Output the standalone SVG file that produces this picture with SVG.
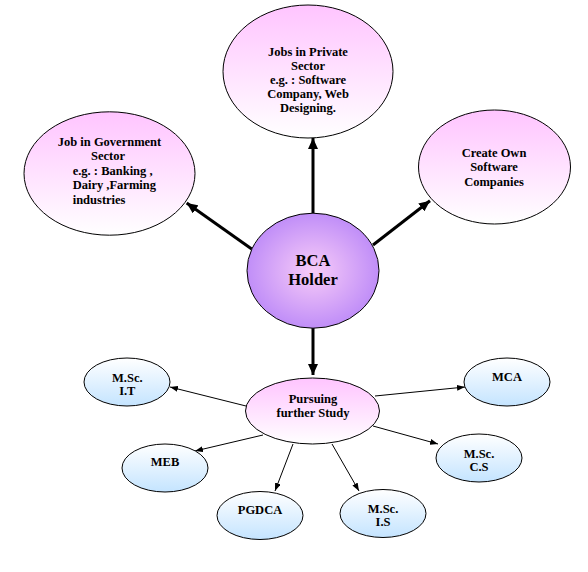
<svg xmlns="http://www.w3.org/2000/svg" width="588" height="572" viewBox="0 0 588 572">
<defs>
<linearGradient id="pink" x1="0" y1="0" x2="0" y2="1">
<stop offset="0" stop-color="#FFC4FF"/>
<stop offset="1" stop-color="#FFFFFF"/>
</linearGradient>
<linearGradient id="blue" x1="0" y1="0" x2="0" y2="1">
<stop offset="0" stop-color="#FFFFFF"/>
<stop offset="1" stop-color="#C4E4FF"/>
</linearGradient>
<radialGradient id="purple" cx="0.5" cy="0.5" r="0.5">
<stop offset="0" stop-color="#F8CCF8"/>
<stop offset="1" stop-color="#C08EF8"/>
</radialGradient>
<marker id="thick" markerUnits="userSpaceOnUse" markerWidth="12" markerHeight="10" refX="11" refY="5" orient="auto">
<path d="M0,0 L11,5 L0,10 Z" fill="#000"/>
</marker>
<marker id="thin" markerUnits="userSpaceOnUse" markerWidth="8" markerHeight="6" refX="8" refY="3" orient="auto">
<path d="M0,0 L8,3 L0,6 Z" fill="#000"/>
</marker>
</defs>
<style>
.pk{fill:url(#pink);stroke:#000;stroke-width:1}
.bl{fill:url(#blue);stroke:#000;stroke-width:1}
.bca{fill:url(#purple);stroke:#000;stroke-width:1}
text{font-family:"Liberation Serif","Times New Roman",serif;font-weight:bold;font-size:12.5px;fill:#000;text-anchor:middle}
.big{font-size:16.5px}
.l{text-anchor:start}
.tk{stroke:#000;stroke-width:3;fill:none;marker-end:url(#thick)}
.tn{stroke:#000;stroke-width:1;fill:none;marker-end:url(#thin)}
</style>
<g id="connectors">
<line class="tk" x1="313" y1="213" x2="313" y2="138"/>
<line class="tk" x1="251.7" y1="249" x2="186.7" y2="203"/>
<line class="tk" x1="373" y1="245" x2="430" y2="200.7"/>
<line class="tk" x1="313" y1="328" x2="313" y2="375"/>
<line class="tn" x1="246" y1="406" x2="170" y2="387"/>
<line class="tn" x1="375" y1="396" x2="465" y2="387"/>
<line class="tn" x1="263" y1="435" x2="195" y2="451"/>
<line class="tn" x1="373" y1="426" x2="438" y2="444"/>
<line class="tn" x1="293" y1="444" x2="275" y2="491"/>
<line class="tn" x1="332" y1="444" x2="359" y2="491"/>
</g>
<g id="private">
<ellipse class="pk" cx="308" cy="71.5" rx="85" ry="66.5"/>
<text x="308" y="56">Jobs in Private</text>
<text x="308" y="70">Sector</text>
<text x="308" y="84">e.g. : Software</text>
<text x="308" y="98">Company, Web</text>
<text x="308" y="112">Designing.</text>
</g>
<g id="government">
<ellipse class="pk" cx="109.5" cy="173.5" rx="85.5" ry="61.7"/>
<text x="109.5" y="146">Job in Government</text>
<text x="108" y="160">Sector</text>
<text class="l" x="72.7" y="174.5">e.g. : Banking ,</text>
<text class="l" x="72.7" y="189">Dairy ,Farming</text>
<text class="l" x="72.7" y="203.5">industries</text>
</g>
<g id="own">
<ellipse class="pk" cx="494.5" cy="167" rx="76" ry="57"/>
<text x="494" y="156.5">Create Own</text>
<text x="494" y="171">Software</text>
<text x="494" y="186">Companies</text>
</g>
<g id="bca">
<ellipse class="bca" cx="313" cy="270.7" rx="66" ry="57.5"/>
<text class="big" x="313" y="266">BCA</text>
<text class="big" x="313" y="285">Holder</text>
</g>
<g id="pursuing">
<ellipse class="pk" cx="312.5" cy="411" rx="67" ry="33"/>
<text x="313" y="402.5">Pursuing</text>
<text x="313" y="417">further Study</text>
</g>
<g id="mscit">
<ellipse class="bl" cx="127" cy="382" rx="43" ry="24"/>
<text x="127.3" y="381.5">M.Sc.</text>
<text x="127.3" y="395">I.T</text>
</g>
<g id="mca">
<ellipse class="bl" cx="507" cy="382" rx="43" ry="24"/>
<text x="507" y="381">MCA</text>
</g>
<g id="meb">
<ellipse class="bl" cx="165" cy="468" rx="43" ry="24"/>
<text x="165" y="466">MEB</text>
</g>
<g id="msccs">
<ellipse class="bl" cx="479" cy="458" rx="43" ry="24"/>
<text x="479" y="457.5">M.Sc.</text>
<text x="479" y="471">C.S</text>
</g>
<g id="pgdca">
<ellipse class="bl" cx="260" cy="515.5" rx="43" ry="24"/>
<text x="260" y="514">PGDCA</text>
</g>
<g id="mscis">
<ellipse class="bl" cx="383" cy="513.5" rx="43" ry="24"/>
<text x="383" y="512.5">M.Sc.</text>
<text x="383" y="526">I.S</text>
</g>
</svg>
